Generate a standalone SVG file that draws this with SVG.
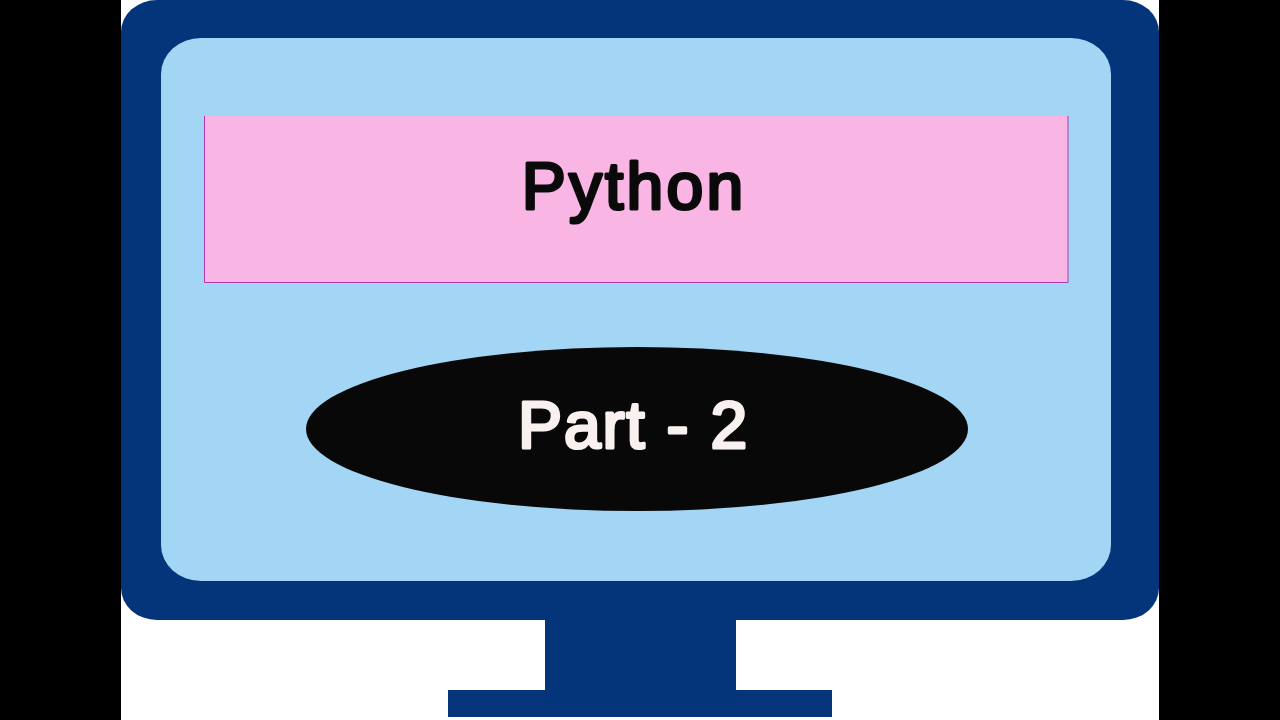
<svg xmlns="http://www.w3.org/2000/svg" width="1280" height="720" viewBox="0 0 1280 720">
<style>
.lbl{font-family:"Liberation Sans",Arial,sans-serif;font-size:66px;text-anchor:middle;stroke-linejoin:round;stroke-linecap:round;stroke-width:3.200px}
.edge{fill:none;stroke:#b03ab0;stroke-width:1}
</style>
<rect width="1280" height="720" fill="#000"/>
<rect x="121" y="0" width="1038" height="720" fill="#fff"/>
<g id="monitor">
<path d="M545 615H736V690H832V717H448V690H545Z" fill="#04357a"/>
<rect x="121" y="0" width="1038" height="620" rx="36" ry="32" fill="#04357a"/>
<rect x="161" y="38" width="950" height="543" rx="40" ry="36" fill="#a3d5f4"/>
</g>
<g id="title">
<rect x="205" y="116" width="863" height="166.500" fill="#f9b6e5"/>
<path class="edge" d="M204.500 116V282.500H1068V116"/>
<text class="lbl" x="634" y="208.500" letter-spacing="3.200" fill="#0a0a0a" stroke="#0a0a0a">Python</text>
</g>
<g id="part">
<ellipse cx="637" cy="429" rx="331" ry="82" fill="#080808"/>
<text class="lbl" x="633.500" y="447.500" letter-spacing="1.800" fill="#f9f0f0" stroke="#f9f0f0">Part - 2</text>
</g>
</svg>
